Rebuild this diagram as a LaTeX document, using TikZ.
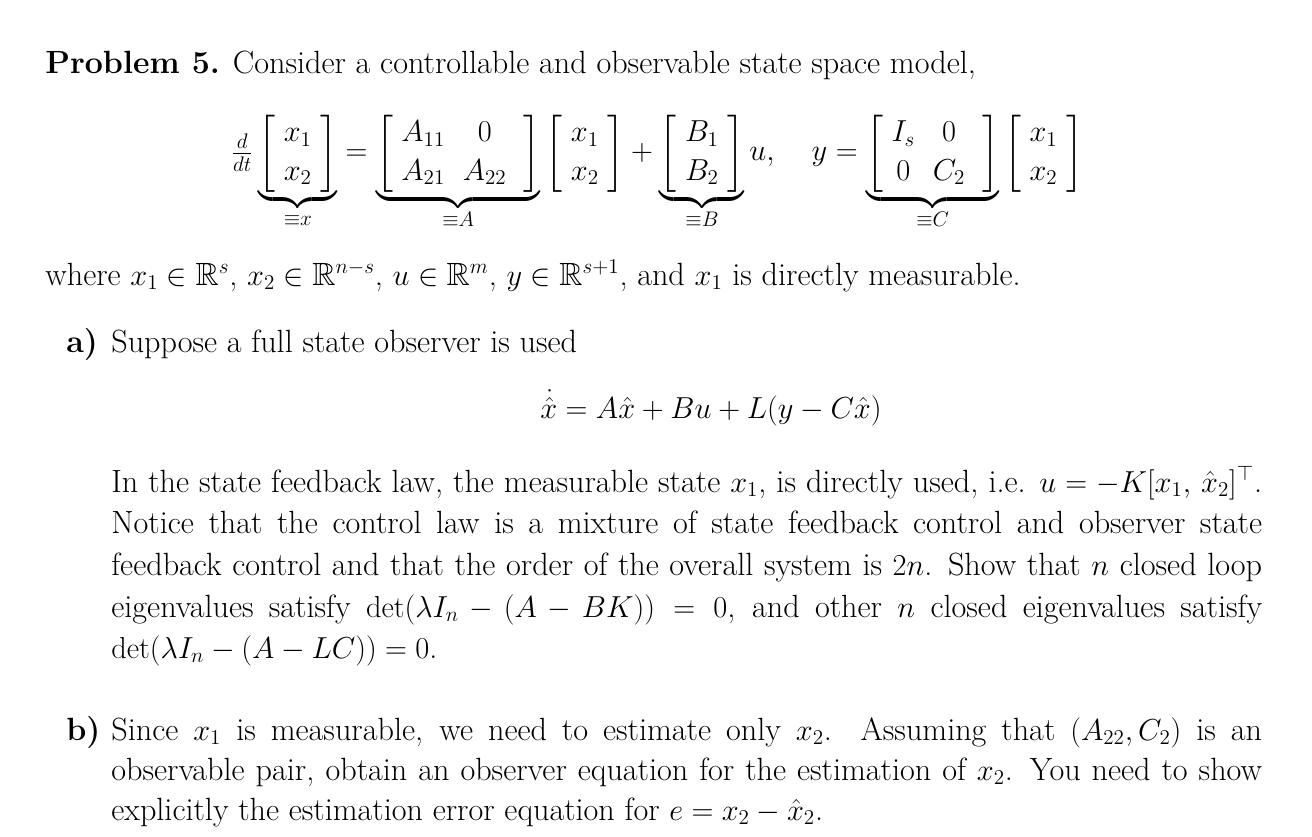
\documentclass[tikz,border=0pt]{standalone}
\usepackage{amsmath,amssymb}
\begin{document}
\begin{tikzpicture}[x=0.02cm,y=-0.02cm,
  txt/.style={anchor=base west,inner sep=0pt,font=\fontsize{18.3}{22}\selectfont}]
\useasboundingbox (0,0) rectangle (1312,836);
\node[txt] (p) at (45,73) {\textbf{Problem 5.} Consider a controllable and observable state space model,};
\node[inner sep=0pt,font=\fontsize{18.3}{22}\selectfont] (eq) at (657,172) {$\tfrac{d}{dt}\underbrace{\begin{bmatrix}\;x_1\;\\\;x_2\;\end{bmatrix}}_{\equiv x} = \underbrace{\begin{bmatrix}\;A_{11}&0\;\;\\\;A_{21}&A_{22}\;\;\end{bmatrix}}_{\equiv A}\begin{bmatrix}\;x_1\;\\\;x_2\;\end{bmatrix}+\underbrace{\begin{bmatrix}\;B_1\;\\\;B_2\;\end{bmatrix}}_{\equiv B}u,\quad y=\underbrace{\begin{bmatrix}\;I_s&0\;\;\\\;0&C_2\;\;\end{bmatrix}}_{\equiv C}\begin{bmatrix}\;x_1\;\\\;x_2\;\end{bmatrix}$};
\node[txt] (w) at (45,285) {where $x_1\in\mathbb{R}^s$, $x_2\in\mathbb{R}^{n-s}$, $u\in\mathbb{R}^m$, $y\in\mathbb{R}^{s+1}$, and $x_1$ is directly measurable.};
\node[txt] (a) at (66,352) {\textbf{a)}};
\node[txt] (at) at (111,352) {Suppose a full state observer is used};
\node[txt] (oe) at (540,418) {$\dot{\hat{x}} = A\hat{x}+Bu+L(y-C\hat{x})$};
\node[txt] (l1) at (111,492) {\hbox to 23.02cm{In the state feedback law, the measurable state $x_1$, is directly used, i.e. $u=-K[x_1,\,\hat{x}_2]^\top$.}};
\node[txt] (l2) at (111,533) {\hbox to 23.02cm{Notice that the control law is a mixture of state feedback control and observer state}};
\node[txt] (l3) at (111,575) {\hbox to 23.02cm{feedback control and that the order of the overall system is $2n$. Show that $n$ closed loop}};
\node[txt] (l4) at (111,617) {\hbox to 23.02cm{eigenvalues satisfy $\det(\lambda I_n-(A-BK))=0$, and other $n$ closed eigenvalues satisfy}};
\node[txt] (l5) at (111,658) {$\det(\lambda I_n-(A-LC))=0$.};
\node[txt] (b) at (66,740) {\textbf{b)}};
\node[txt] (b1) at (111,740) {\hbox to 23.02cm{Since $x_1$ is measurable, we need to estimate only $x_2$. Assuming that $(A_{22},C_2)$ is an}};
\node[txt] (b2) at (111,780) {\hbox to 23.02cm{observable pair, obtain an observer equation for the estimation of $x_2$. You need to show}};
\node[txt] (b3) at (111,820) {explicitly the estimation error equation for $e=x_2-\hat{x}_2$.};
\end{tikzpicture}
\end{document}
